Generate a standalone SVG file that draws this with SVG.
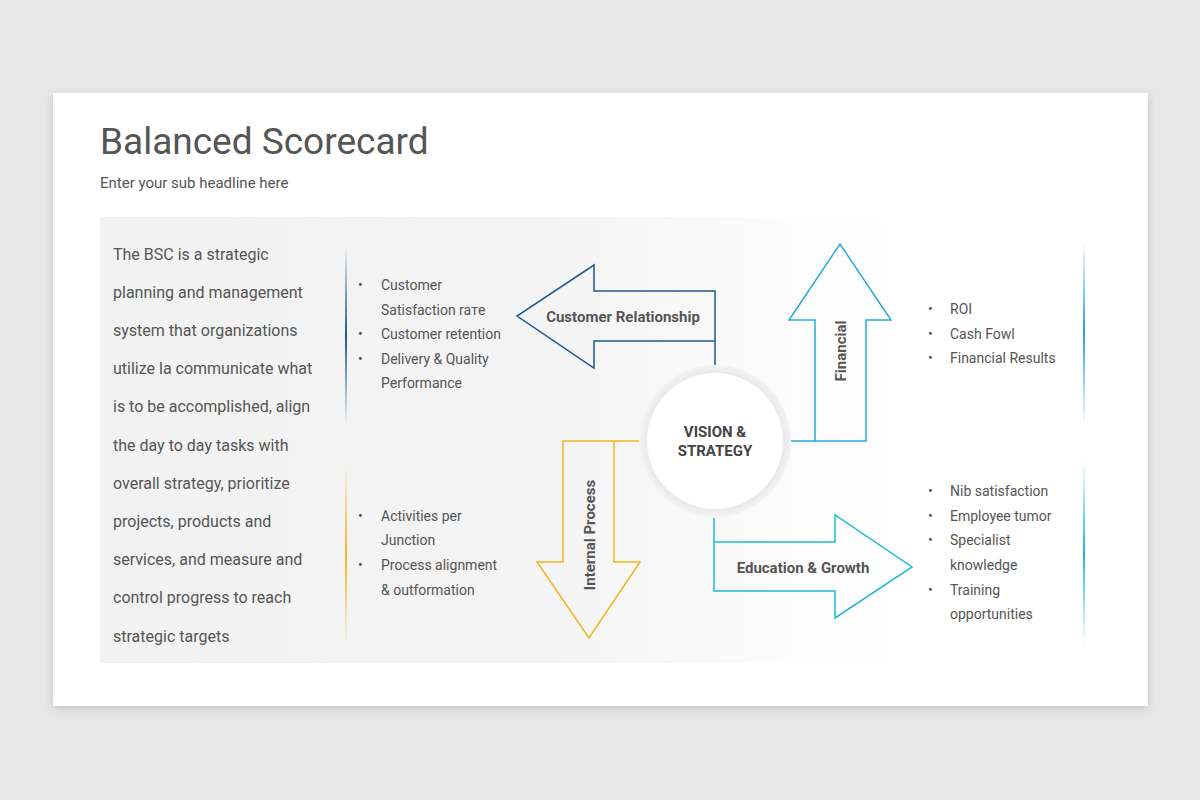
<svg xmlns="http://www.w3.org/2000/svg" width="1200" height="800" viewBox="0 0 1200 800">
<defs>
<linearGradient id="bg" x1="0" x2="1" y1="0" y2="0"><stop offset="0" stop-color="#f2f2f2"/><stop offset="0.45" stop-color="#f4f4f4"/><stop offset="0.8" stop-color="#ffffff"/></linearGradient>
<linearGradient id="lb" x1="0" x2="0" y1="0" y2="1"><stop offset="0" stop-color="#1c5a92" stop-opacity="0"/><stop offset="0.5" stop-color="#1c5a92"/><stop offset="1" stop-color="#1c5a92" stop-opacity="0"/></linearGradient>
<linearGradient id="ly" x1="0" x2="0" y1="0" y2="1"><stop offset="0" stop-color="#f2b51c" stop-opacity="0"/><stop offset="0.5" stop-color="#f2b51c"/><stop offset="1" stop-color="#f2b51c" stop-opacity="0"/></linearGradient>
<linearGradient id="lc" x1="0" x2="0" y1="0" y2="1"><stop offset="0" stop-color="#2a9fe0" stop-opacity="0"/><stop offset="0.5" stop-color="#2a9fe0"/><stop offset="1" stop-color="#2a9fe0" stop-opacity="0"/></linearGradient>
<linearGradient id="lt" x1="0" x2="0" y1="0" y2="1"><stop offset="0" stop-color="#1fb8d6" stop-opacity="0"/><stop offset="0.5" stop-color="#1fb8d6"/><stop offset="1" stop-color="#1fb8d6" stop-opacity="0"/></linearGradient>
<radialGradient id="ring"><stop offset="0.85" stop-color="#e4e4e4"/><stop offset="1" stop-color="#f4f4f4"/></radialGradient>
<filter id="sh" x="-5%" y="-5%" width="110%" height="115%"><feDropShadow dx="0" dy="3" stdDeviation="4" flood-opacity="0.15"/></filter>
</defs>
<style>
text{font-family:Roboto,"Liberation Sans",sans-serif;fill:#555}
.b{font-size:14px}
.p{font-size:16px}
.l{font-size:15px;font-weight:bold;fill:#444}
.a{fill:none;stroke-width:1.5}
</style>
<rect width="1200" height="800" fill="#e8e7e8"/>
<rect x="53" y="93" width="1095" height="613" fill="#fff" filter="url(#sh)"/>
<text x="100" y="154" font-size="37" fill="#555">Balanced Scorecard</text>
<text x="100" y="188" font-size="15">Enter your sub headline here</text>
<rect x="100" y="217" width="985" height="446" fill="url(#bg)"/>
<g id="intro" class="p">
<text x="113" y="260">The BSC is a strategic</text>
<text x="113" y="298">planning and management</text>
<text x="113" y="336">system that organizations</text>
<text x="113" y="374">utilize la communicate what</text>
<text x="113" y="412">is to be accomplished, align</text>
<text x="113" y="451">the day to day tasks with</text>
<text x="113" y="489">overall strategy, prioritize</text>
<text x="113" y="527">projects, products and</text>
<text x="113" y="565">services, and measure and</text>
<text x="113" y="603">control progress to reach</text>
<text x="113" y="642">strategic targets</text>
</g>
<rect x="345" y="245" width="2" height="180" fill="url(#lb)"/>
<rect x="345" y="465" width="2" height="180" fill="url(#ly)"/>
<rect x="1083" y="240" width="2" height="185" fill="url(#lc)"/>
<rect x="1083" y="460" width="2" height="185" fill="url(#lt)"/>
<g id="list-customer" class="b">
<text x="358" y="290">•</text><text x="381" y="290">Customer</text>
<text x="381" y="315">Satisfaction raтe</text>
<text x="358" y="339">•</text><text x="381" y="339">Customer  retention</text>
<text x="358" y="364">•</text><text x="381" y="364">Delivery &amp; Quality</text>
<text x="381" y="388">Performance</text>
</g>
<g id="list-internal" class="b">
<text x="358" y="521">•</text><text x="381" y="521">Activities per</text>
<text x="381" y="545">Junction</text>
<text x="358" y="570">•</text><text x="381" y="570">Process  alignment</text>
<text x="381" y="595">&amp; outformation</text>
</g>
<g id="list-financial" class="b">
<text x="928" y="314">•</text><text x="950" y="314">ROI</text>
<text x="928" y="339">•</text><text x="950" y="339">Cash Fowl</text>
<text x="928" y="363">•</text><text x="950" y="363">Financial Results</text>
</g>
<g id="list-education" class="b">
<text x="928" y="496">•</text><text x="950" y="496">Nib satisfaction</text>
<text x="928" y="521">•</text><text x="950" y="521">Employee tumor</text>
<text x="928" y="545">•</text><text x="950" y="545">Specialist</text>
<text x="950" y="570">knowledge</text>
<text x="928" y="595">•</text><text x="950" y="595">Training</text>
<text x="950" y="619">opportunities</text>
</g>
<g id="connectors">
<path class="a" stroke="#1c5a92" d="M715,366 V291 H594 V265 L517,316 L594,368 V341 H715"/>
<path class="a" stroke="#2aa8e0" d="M791,441 H866 V320 H891 L840,244 L789,320 H815 V441"/>
<path class="a" stroke="#f2b51c" d="M639,441 H563 V562 H537 L589,638 L640,562 H614 V441"/>
<path class="a" stroke="#1fbcd6" d="M714,518 V591 H835 V618 L912,567 L835,515 V542 H714"/>
</g>
<g id="arrow-labels" class="l">
<text x="623" y="322" text-anchor="middle">Customer Relationship</text>
<text x="803" y="573" text-anchor="middle">Education &amp; Growth</text>
<text transform="translate(846,351) rotate(-90)" text-anchor="middle">Financial</text>
<text transform="translate(595,535) rotate(-90)" text-anchor="middle">Internal Process</text>
</g>
<g id="vision">
<circle cx="715" cy="441" r="76" fill="url(#ring)"/>
<circle cx="715" cy="441" r="68" fill="#fff"/>
<text x="715" y="437" text-anchor="middle" class="l">VISION &amp;</text>
<text x="715" y="456" text-anchor="middle" class="l">STRATEGY</text>
</g>
</svg>
